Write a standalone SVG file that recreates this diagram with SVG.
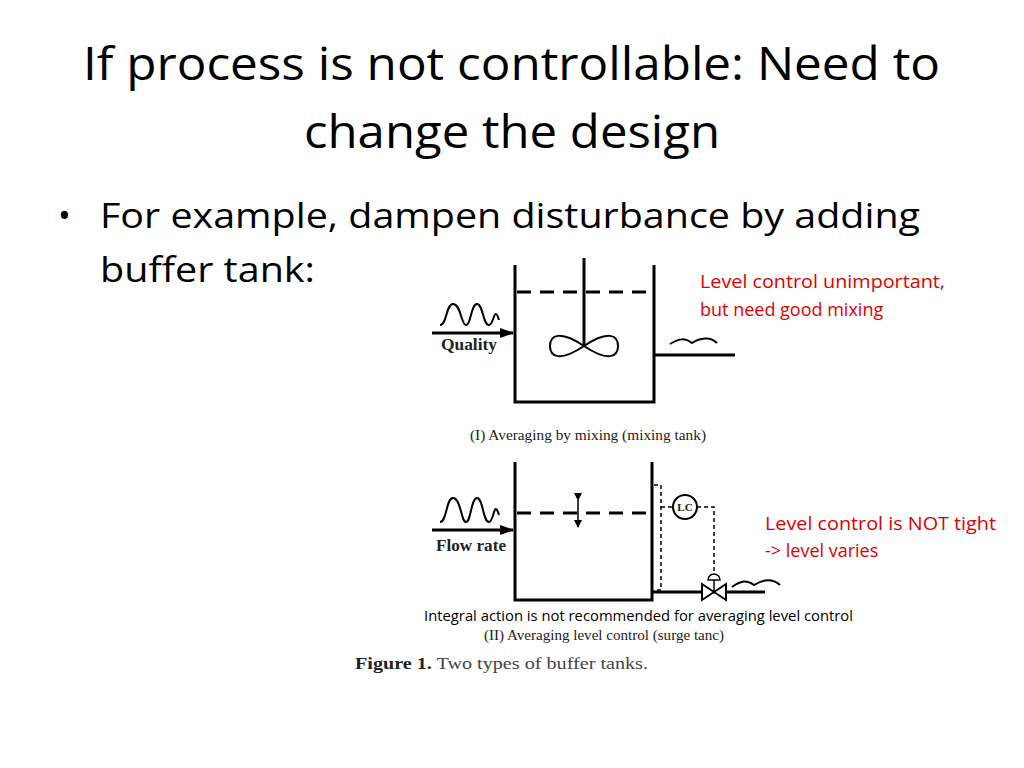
<svg xmlns="http://www.w3.org/2000/svg" width="1024" height="768" viewBox="0 0 1024 768">
<style>
.t{font-family:"Open Sans","Liberation Sans",sans-serif;fill:#000}
.r{font-family:"Open Sans","Liberation Sans",sans-serif;fill:#e00000;font-size:18px}
.s{font-family:"Liberation Serif",serif;fill:#222}
.l{stroke:#000;stroke-width:3;fill:none}
.d{stroke:#000;stroke-width:3;fill:none;stroke-dasharray:14,9}
.sd{stroke:#000;stroke-width:1.5;fill:none;stroke-dasharray:4,3}
.w{stroke:#000;stroke-width:2;fill:none}
</style>
<defs><marker id="a" markerWidth="8" markerHeight="8" refX="7" refY="4" orient="auto" markerUnits="userSpaceOnUse"><path d="M0,0 L8,4 L0,8z" fill="#000"/></marker>
<marker id="b" markerWidth="14" markerHeight="10" refX="13" refY="5" orient="auto" markerUnits="userSpaceOnUse"><path d="M0,0 L14,5 L0,10z" fill="#000"/></marker></defs>
<rect width="1024" height="768" fill="#fff"/>
<text class="t" x="83" y="80" font-size="46" textLength="857" lengthAdjust="spacingAndGlyphs">If process is not controllable: Need to</text>
<text class="t" x="304" y="148" font-size="46" textLength="416" lengthAdjust="spacingAndGlyphs">change the design</text>
<text class="t" x="58" y="228" font-size="34">•</text>
<text class="t" x="100" y="228" font-size="35" textLength="820" lengthAdjust="spacingAndGlyphs">For example, dampen disturbance by adding</text>
<text class="t" x="100" y="282" font-size="35" textLength="215" lengthAdjust="spacingAndGlyphs">buffer tank:</text>
<g id="tank1">
<path class="l" d="M515,265 V402 H654 V265 M654,355 H735"/>
<path class="d" d="M517,292 H652"/>
<path class="l" d="M584,258 V346"/>
<path class="w" d="M584,346 C560,330 550,335 550,346 C550,357 560,362 584,346 C608,330 618,335 618,346 C618,357 608,362 584,346Z"/>
<path class="l" d="M432,333 H513" marker-end="url(#b)"/>
<path class="w" d="M440,325 C447,325 446,304 453,304 C461,304 461,325 466,325 C471,325 471,304 477,304 C483,304 483,325 489,325 C494,325 494,304 499,320"/>
<text class="s" x="441" y="350" font-size="16" font-weight="bold" textLength="56" lengthAdjust="spacingAndGlyphs">Quality</text>
<path class="w" d="M670,344 C680,338 685,338 692,343 C700,338 710,336 717,343"/>
</g>
<text class="s" x="470" y="440" font-size="15" textLength="236" lengthAdjust="spacingAndGlyphs">(I) Averaging by mixing (mixing tank)</text>
<g id="tank2">
<path class="l" d="M515,462 V600 H652 V462 M652,592 H765"/>
<path class="d" d="M517,513 H650"/>
<path d="M578,500 V527" stroke="#000" stroke-width="1.5" marker-start="url(#a)" marker-end="url(#a)"/>
<path class="l" d="M432,530 H513" marker-end="url(#b)"/>
<path class="w" d="M440,522 C447,522 446,498 453,498 C461,498 461,522 466,522 C471,522 471,498 477,498 C483,498 483,522 489,522 C494,522 494,498 499,515"/>
<text class="s" x="436" y="551" font-size="16" font-weight="bold" textLength="70" lengthAdjust="spacingAndGlyphs">Flow rate</text>
<path class="sd" d="M654,485 H661 V590 H654 M661,507 H673 M697,507 H714 V573"/>
<circle cx="685" cy="507" r="12" fill="#fff" stroke="#000" stroke-width="2"/>
<text class="s" x="685" y="511" font-size="11" font-weight="bold" text-anchor="middle">LC</text>
<path d="M708,580 A6,6 0 0 1 720,580Z M714,580 V592" stroke="#000" stroke-width="1.5" fill="#fff"/>
<path d="M702,584 L726,600 V584 L702,600Z" stroke="#000" stroke-width="2" fill="#fff"/>
<path class="w" d="M732,587 C742,580 747,580 754,585 C762,580 772,578 780,585"/>
</g>
<text class="t" x="424" y="621" font-size="14.5" textLength="429" lengthAdjust="spacingAndGlyphs">Integral action is not recommended for averaging level control</text>
<text class="s" x="484" y="640" font-size="15" textLength="240" lengthAdjust="spacingAndGlyphs">(II) Averaging level control (surge tanc)</text>
<text class="s" x="355" y="669" font-size="17" textLength="293" lengthAdjust="spacingAndGlyphs"><tspan font-weight="bold">Figure 1.</tspan><tspan fill="#444">  Two types of buffer tanks.</tspan></text>
<text class="r" x="700" y="288" textLength="245" lengthAdjust="spacingAndGlyphs">Level control unimportant,</text>
<text class="r" x="700" y="316">but need good mixing</text>
<text class="r" x="765" y="530" textLength="231" lengthAdjust="spacingAndGlyphs">Level control is NOT tight</text>
<text class="r" x="765" y="557">-&gt; level varies</text>
</svg>
